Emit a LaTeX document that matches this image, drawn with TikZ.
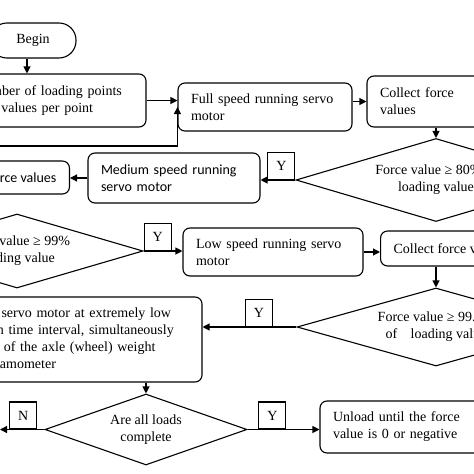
\documentclass[tikz,border=0pt]{standalone}
\usepackage{fontspec}
\setmainfont{Liberation Serif}
\newfontfamily\calibrifont{Carlito}
\usetikzlibrary{shapes.geometric, arrows.meta}

\begin{document}
\begin{tikzpicture}[x=1pt, y=1pt, >={Triangle[length=7pt, width=7pt]},
  every node/.style={font=\fontsize{14}{17}\selectfont},
  every path/.style={line width=1.1pt},
  box/.style={draw, rounded corners=7pt, inner xsep=13pt, inner ysep=2pt, align=left},
  calibri/.style={font=\fontsize{14}{17}\selectfont\calibrifont},
  decision/.style={draw, diamond, inner sep=0pt, align=center},
  tag/.style={draw, minimum size=27pt, inner sep=0pt}]

  \useasboundingbox (0,0) rectangle (474,-474);

  \node[box, rounded corners=17pt, align=center, minimum width=86pt, minimum height=35pt] (begin) at (33,-40.5) {Begin};
  \node[box, text width=190pt, minimum height=53pt] (input) at (38,-100.5) {Input number of loading points\\and force values per point};
  \node[box, text width=148pt, minimum height=48pt] (full) at (265,-107) {Full speed running servo\\motor};
  \node[box, text width=114pt, minimum height=51pt] (collA) at (437,-101.5) {Collect force\\values};
  \node[decision, aspect=3.37, minimum width=280pt, minimum height=83pt] (dec80) at (436,-180) {Force value ≥ 80\% of\\loading value};

  \node[box, calibri, text width=146pt, minimum height=50pt] (med) at (174,-178) {Medium speed running\\servo motor};
  \node[box, calibri, anchor=east, minimum height=33pt] (collL) at (70,-177.5) {Collect force values};

  \node[decision, aspect=3.4, minimum width=252pt, minimum height=74pt] (dec99L) at (17,-251) {Force value ≥ 99\%\\loading value};
  \node[box, text width=154pt, minimum height=48pt] (low) at (273,-252) {Low speed running servo\\motor};
  \node[box, anchor=west, minimum height=35pt] (collB) at (380,-248.5) {Collect force values};
  \node[decision, aspect=3.56, minimum width=278pt, minimum height=78pt] (dec99R) at (436,-327) {Force value ≥ 99.5\%\\of \hspace{10pt}loading value};

  \node[box, text width=210pt, minimum height=85pt] (ext) at (84,-339.5) {Set servo motor at extremely low\\with time interval, simultaneously\\and of the axle (wheel) weight\\dynamometer};
  \node[decision, aspect=2.85, minimum width=202pt, minimum height=71pt] (decall) at (146,-429.5) {Are all loads\\complete};
  \node[box, text width=136pt, minimum height=52pt] (unload) at (401,-427) {Unload until the force\\value is 0 or negative};

  \coordinate (loop) at (-5,-146);
  \coordinate (nout) at (0,-429.5);

  \draw[->] ([xshift=-6pt]begin.south) -- ([xshift=-6pt]begin.south |- input.north);
  \draw[->] (input.east) -- (input.east -| full.west);
  \draw[->] (loop) -| (full.west);
  \draw[->] (full.east |- collA.west) -- (collA.west);
  \draw[->] (dec80.north |- collA.south) -- (dec80.north);
  \draw[->] (dec80.west) -- node[tag, pos=0, anchor=south east] (yA) {Y} (dec80.west -| med.east);
  \draw[->] (med.west) -- (med.west -| collL.east);

  \draw[->] (dec99L.east) -- node[tag, pos=0, anchor=south west] (yB) {Y} (dec99L.east -| low.west);
  \draw[->] (low.east) -- (low.east -| collB.west);
  \draw[->] (dec99R.north |- collB.south) -- (dec99R.north);
  \draw[->] (dec99R.west) -- node[tag, pos=0.25, anchor=south east] (yC) {Y} (dec99R.west -| ext.east);

  \draw[->] (decall.north |- ext.south) -- (decall.north);
  \draw[->] (decall.west) -- node[tag, pos=0.16, anchor=south east] (nA) {N} (nout);
  \draw[->] (decall.east) -- node[tag, pos=0.15, anchor=south west] (yD) {Y} (decall.east -| unload.west);

\end{tikzpicture}
\end{document}
